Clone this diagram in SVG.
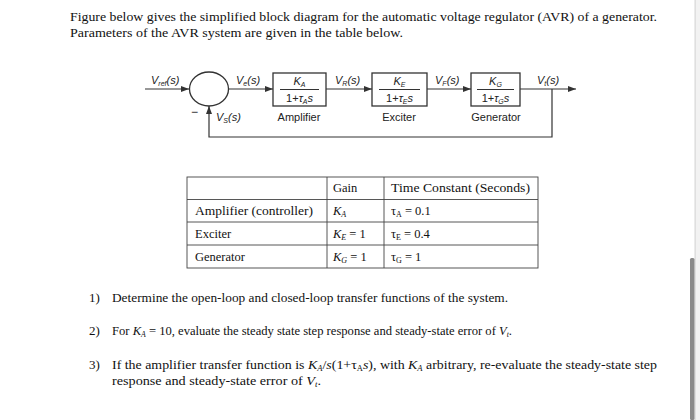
<svg xmlns="http://www.w3.org/2000/svg" width="700" height="420" viewBox="0 0 700 420">
<style>
.serif{font-family:"Liberation Serif","Times New Roman",serif;fill:#111}
.sans{font-family:"Liberation Sans",Arial,sans-serif;fill:#222}
.blk{fill:#fff;stroke:#333;stroke-width:1.3}
.ln{fill:none;stroke:#333;stroke-width:1.2}
.tb{fill:none;stroke:#444;stroke-width:0.9}
.it{font-style:italic}
</style>
<defs>
<marker id="arr" viewBox="0 0 8 6" refX="8" refY="3" markerWidth="8" markerHeight="6" markerUnits="userSpaceOnUse" orient="auto">
<path d="M0,0 L8,3 L0,6 Z" fill="#333"/>
</marker>
</defs>
<rect width="700" height="420" fill="#fff"/>

<!-- intro text -->
<g id="intro" class="serif" font-size="13.5">
<text x="70" y="21" textLength="587" lengthAdjust="spacingAndGlyphs">Figure below gives the simplified block diagram for the automatic voltage regulator (AVR) of a generator.</text>
<text x="70" y="37" textLength="333" lengthAdjust="spacingAndGlyphs">Parameters of the AVR system are given in the table below.</text>
</g>

<!-- connectors -->
<g id="connectors">
<line class="ln" x1="145" y1="89" x2="189" y2="89" marker-end="url(#arr)"/>
<line class="ln" x1="228" y1="89" x2="273" y2="89" marker-end="url(#arr)"/>
<line class="ln" x1="326" y1="89" x2="372" y2="89" marker-end="url(#arr)"/>
<line class="ln" x1="427" y1="89" x2="471" y2="89" marker-end="url(#arr)"/>
<line class="ln" x1="520" y1="89" x2="576" y2="89" marker-end="url(#arr)"/>
<polyline class="ln" points="552,89 552,137 209,137 209,106" marker-end="url(#arr)"/>
</g>

<!-- summing junction -->
<g id="sum">
<ellipse class="blk" cx="209" cy="89" rx="19.5" ry="17"/>
<text class="sans" x="194.5" y="116" font-size="12" text-anchor="middle">−</text>
</g>

<!-- blocks -->
<g id="amplifier" class="sans">
<rect class="blk" x="273" y="73" width="53" height="33"/>
<line class="ln" x1="280" y1="89.5" x2="319" y2="89.5" stroke-width="1"/>
<text x="299.5" y="85" font-size="11" text-anchor="middle"><tspan class="it">K</tspan><tspan font-size="7" dy="2" class="it">A</tspan></text>
<text x="299.5" y="102" font-size="11" text-anchor="middle">1+<tspan class="it">τ</tspan><tspan font-size="7" dy="2" class="it">A</tspan><tspan dy="-2" class="it">s</tspan></text>
<text x="299" y="121" font-size="11" text-anchor="middle">Amplifier</text>
</g>

<g id="exciter" class="sans">
<rect class="blk" x="372" y="73" width="55" height="33"/>
<line class="ln" x1="379" y1="89.5" x2="420" y2="89.5" stroke-width="1"/>
<text x="399.5" y="85" font-size="11" text-anchor="middle"><tspan class="it">K</tspan><tspan font-size="7" dy="2" class="it">E</tspan></text>
<text x="399.5" y="102" font-size="11" text-anchor="middle">1+<tspan class="it">τ</tspan><tspan font-size="7" dy="2" class="it">E</tspan><tspan dy="-2" class="it">s</tspan></text>
<text x="399" y="121" font-size="11" text-anchor="middle">Exciter</text>
</g>

<g id="generator" class="sans">
<rect class="blk" x="471" y="73" width="49" height="33"/>
<line class="ln" x1="477" y1="89.5" x2="514" y2="89.5" stroke-width="1"/>
<text x="495.5" y="85" font-size="11" text-anchor="middle"><tspan class="it">K</tspan><tspan font-size="7" dy="2" class="it">G</tspan></text>
<text x="495.5" y="102" font-size="11" text-anchor="middle">1+<tspan class="it">τ</tspan><tspan font-size="7" dy="2" class="it">G</tspan><tspan dy="-2" class="it">s</tspan></text>
<text x="496" y="121" font-size="11" text-anchor="middle">Generator</text>
</g>

<!-- signal labels -->
<g id="signal-labels" class="sans it" font-size="11">
<text x="151" y="84">V<tspan font-size="7" dy="2">ref</tspan><tspan dy="-2">(s)</tspan></text>
<text x="236" y="84">V<tspan font-size="7" dy="2">e</tspan><tspan dy="-2">(s)</tspan></text>
<text x="335" y="84">V<tspan font-size="7" dy="2">R</tspan><tspan dy="-2">(s)</tspan></text>
<text x="435" y="84">V<tspan font-size="7" dy="2">F</tspan><tspan dy="-2">(s)</tspan></text>
<text x="537" y="84">V<tspan font-size="7" dy="2">t</tspan><tspan dy="-2">(s)</tspan></text>
<text x="216" y="121">V<tspan font-size="7" dy="2">S</tspan><tspan dy="-2">(s)</tspan></text>
</g>

<!-- table -->
<g id="table" class="serif" font-size="12.5">
<rect class="tb" x="187" y="177" width="351" height="91"/>
<line class="tb" x1="327" y1="177" x2="327" y2="268"/>
<line class="tb" x1="384" y1="177" x2="384" y2="268"/>
<line class="tb" x1="187" y1="199.5" x2="538" y2="199.5"/>
<line class="tb" x1="187" y1="222" x2="538" y2="222"/>
<line class="tb" x1="187" y1="245" x2="538" y2="245"/>
<text x="333" y="192">Gain</text>
<text x="391" y="192" textLength="139" lengthAdjust="spacingAndGlyphs">Time Constant (Seconds)</text>
<text x="195" y="215" textLength="118" lengthAdjust="spacingAndGlyphs">Amplifier (controller)</text>
<text x="195" y="238">Exciter</text>
<text x="195" y="261">Generator</text>
<text x="333" y="215"><tspan class="it">K</tspan><tspan class="it" font-size="8" dy="2">A</tspan></text>
<text x="333" y="238"><tspan class="it">K</tspan><tspan class="it" font-size="8" dy="2">E</tspan><tspan dy="-2"> = 1</tspan></text>
<text x="333" y="261"><tspan class="it">K</tspan><tspan class="it" font-size="8" dy="2">G</tspan><tspan dy="-2"> = 1</tspan></text>
<text x="391" y="215">τ<tspan font-size="8" dy="2">A</tspan><tspan dy="-2"> = 0.1</tspan></text>
<text x="391" y="238">τ<tspan font-size="8" dy="2">E</tspan><tspan dy="-2"> = 0.4</tspan></text>
<text x="391" y="261">τ<tspan font-size="8" dy="2">G</tspan><tspan dy="-2"> = 1</tspan></text>
</g>

<!-- questions -->
<g id="questions" class="serif" font-size="13">
<text x="89" y="302">1)</text>
<text x="112" y="302" textLength="396" lengthAdjust="spacingAndGlyphs">Determine the open-loop and closed-loop transfer functions of the system.</text>
<text x="89" y="335">2)</text>
<text x="112" y="335" textLength="400" lengthAdjust="spacingAndGlyphs">For <tspan class="it">K</tspan><tspan class="it" font-size="8" dy="2">A</tspan><tspan dy="-2"> = 10, evaluate the steady state step response and steady-state error of </tspan><tspan class="it">V</tspan><tspan class="it" font-size="8" dy="2">t</tspan><tspan dy="-2">.</tspan></text>
<text x="89" y="369">3)</text>
<text x="112" y="369" textLength="545" lengthAdjust="spacingAndGlyphs">If the amplifier transfer function is <tspan class="it">K</tspan><tspan class="it" font-size="8" dy="2">A</tspan><tspan dy="-2">/</tspan><tspan class="it">s</tspan>(1+τ<tspan font-size="8" dy="2">A</tspan><tspan class="it" dy="-2">s</tspan>), with <tspan class="it">K</tspan><tspan class="it" font-size="8" dy="2">A</tspan><tspan dy="-2"> arbitrary, re-evaluate the steady-state step</tspan></text>
<text x="112" y="385" textLength="209" lengthAdjust="spacingAndGlyphs">response and steady-state error of <tspan class="it">V</tspan><tspan class="it" font-size="8" dy="2">t</tspan><tspan dy="-2">.</tspan></text>
</g>

<!-- scrollbar -->
<g id="scrollbar">
<rect x="695" y="0" width="5" height="420" fill="#f2f2f2"/>
<rect x="694.5" y="0" width="1.2" height="420" fill="#d8d8d8"/>
<rect x="690" y="258" width="4.5" height="162" rx="1.5" fill="#8a8a8a"/>
</g>
</svg>
